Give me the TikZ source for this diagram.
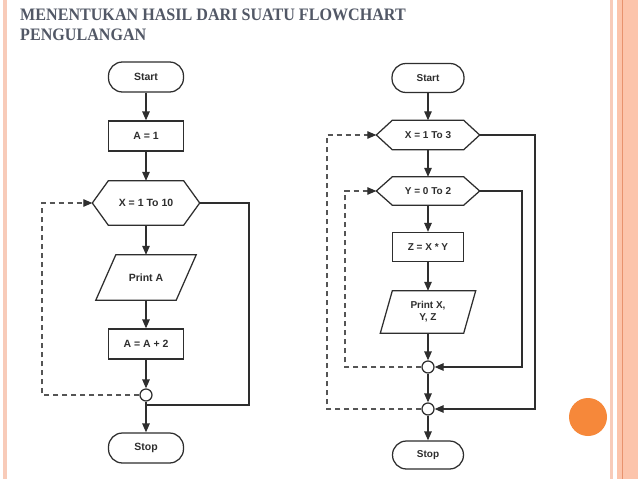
\documentclass[tikz,border=0pt]{standalone}
\usepackage{fontspec}
\setmainfont{Liberation Serif}
\setsansfont{Liberation Sans}
\usetikzlibrary{arrows.meta}
\definecolor{lc}{HTML}{2E2E2E}
\definecolor{dc}{HTML}{555555}
\definecolor{titlec}{HTML}{525866}
\definecolor{stripe}{HTML}{F8CBB9}
\definecolor{band}{HTML}{FCC4AB}
\definecolor{bandline}{HTML}{E8926D}
\definecolor{dot}{HTML}{F6883A}
\newcommand\hexshape[2]{\draw[ln] (#1.west) -- ([xshift=#2]#1.north west) -- ([xshift=-#2]#1.north east) -- (#1.east) -- ([xshift=-#2]#1.south east) -- ([xshift=#2]#1.south west) -- cycle;}
\newcommand\parashape[2]{\draw[ln] ([xshift=#2]#1.north west) -- (#1.north east) -- ([xshift=-#2]#1.south east) -- (#1.south west) -- cycle;}
\begin{document}
\begin{tikzpicture}[x=1pt,y=-1pt,
  ln/.style={draw=lc, line width=1.25pt, line join=miter},
  arrtip/.style={-{Triangle[length=9pt,width=7.5pt,color=lc]}},
  arr/.style={ln, arrtip},
  dsh/.style={draw=dc, line width=1.3pt, dash pattern=on 5pt off 4pt},
  darr/.style={dsh, arrtip},
  lbl/.style={font=\sffamily\bfseries\fontsize{10.5}{12.5}\selectfont, text=lc},
  lbls/.style={font=\sffamily\bfseries\fontsize{10}{12}\selectfont, text=lc},
  term/.style={ln, rectangle, rounded corners=14pt, minimum width=75pt, minimum height=30pt, inner sep=0pt},
  proc/.style={ln, rectangle, minimum width=75pt, minimum height=30pt, inner sep=0pt},
  bbox/.style={rectangle, inner sep=0pt, align=center},
  jn/.style={ln, circle, minimum size=12pt, inner sep=0pt, fill=white}
]
\useasboundingbox (0,0) rectangle (638,479);
\fill[white] (0,0) rectangle (638,479);
% slide decorations
\fill[stripe] (3,0) rectangle (7,479);
\fill[stripe] (610,0) rectangle (613,479);
\fill[band] (617,0) rectangle (638,479);
\fill[bandline] (621.5,0) rectangle (623,479);
\fill[dot] (588,417) circle (19pt);
% title
\node[anchor=base west, inner sep=0pt, text=titlec, font=\bfseries\fontsize{17.5}{20}\selectfont] (t1) at (20,20.5) {\scalebox{0.92}[1]{MENENTUKAN HASIL DARI SUATU FLOWCHART}};
\node[anchor=base west, inner sep=0pt, text=titlec, font=\bfseries\fontsize{17.5}{20}\selectfont] (t2) at (20,40.5) {\scalebox{0.92}[1]{PENGULANGAN}};
% ---------- left flowchart ----------
\node[term, lbl] (sL) at (146,77) {Start};
\node[proc, lbl] (a1) at (146,136) {A = 1};
\node[bbox, lbl, minimum width=107pt, minimum height=44pt] (hL) at (146,203) {X = 1 To 10};
\hexshape{hL}{16pt}
\node[bbox, lbl, minimum width=100pt, minimum height=45pt] (pL) at (146,277.5) {Print A};
\parashape{pL}{20pt}
\node[proc, lbl] (a2) at (146,344) {A = A + 2};
\node[jn] (cL) at (146,395) {};
\coordinate (jL) at (146,405);
\node[term, lbl] (eL) at (146,448) {Stop};
\draw[arr] (sL) -- (a1);
\draw[arr] (a1) -- (hL);
\draw[arr] (hL) -- (pL);
\draw[arr] (pL) -- (a2);
\draw[arr] (a2) -- (cL);
\draw[arr] (cL) -- (eL);
\coordinate (rL) at (249,405);
\draw[ln] (hL.east) -| (rL) -- (jL);
\coordinate (dL) at (42,395);
\draw[darr] (cL.west) -- (dL) |- (hL.west);
% ---------- right flowchart ----------
\node[term, lbls, minimum width=72pt, minimum height=29pt] (sR) at (428,78) {Start};
\node[bbox, lbls, minimum width=103pt, minimum height=29pt] (h1) at (428,135) {X = 1 To 3};
\hexshape{h1}{16pt}
\node[bbox, lbls, minimum width=103pt, minimum height=28pt] (h2) at (428,191) {Y = 0 To 2};
\hexshape{h2}{16pt}
\node[proc, lbls, minimum width=71pt, minimum height=29pt] (zb) at (428,247) {Z = X * Y};
\node[bbox, lbls, minimum width=95pt, minimum height=42pt] (pR) at (428,312) {Print X,\\Y, Z};
\parashape{pR}{12pt}
\node[jn] (c1) at (428,367) {};
\node[jn] (c2) at (428,409) {};
\node[term, lbls, minimum width=71pt, minimum height=28pt] (eR) at (428,455) {Stop};
\draw[arr] (sR) -- (h1);
\draw[arr] (h1) -- (h2);
\draw[arr] (h2) -- (zb);
\draw[arr] (zb) -- (pR);
\draw[arr] (pR) -- (c1);
\draw[arr] (c1) -- (c2);
\draw[arr] (c2) -- (eR);
\coordinate (r1) at (535,409);
\draw[arr] (h1.east) -| (r1) -- (c2.east);
\coordinate (r2) at (522,367);
\draw[arr] (h2.east) -| (r2) -- (c1.east);
\coordinate (d1) at (345,367);
\draw[darr] (c1.west) -- (d1) |- (h2.west);
\coordinate (d2) at (327,409);
\draw[darr] (c2.west) -- (d2) |- (h1.west);
\end{tikzpicture}
\end{document}
